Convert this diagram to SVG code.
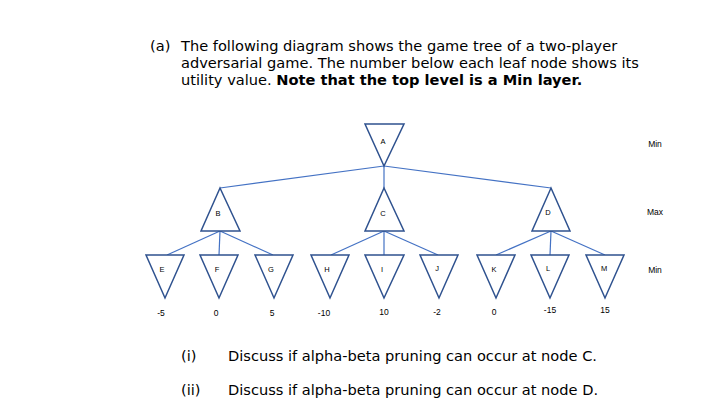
<svg xmlns="http://www.w3.org/2000/svg" width="702" height="401" viewBox="0 0 702 401">
<style>
.t{font-family:"DejaVu Sans",Verdana,sans-serif;font-size:14.6px;fill:#000}
.n polygon{fill:#fff;stroke:#2F528F;stroke-width:1.5}
.n text,.v,.l{font-family:"Liberation Sans",Arial,sans-serif;fill:#000;text-anchor:middle}
.n text{font-size:7.5px}
.v{font-size:8.5px}
.l{font-size:8.5px}
#edges line{stroke:#4472C4;stroke-width:1.2}
</style>
<rect width="702" height="401" fill="#fff"/>
<text class="t" x="150" y="51">(a)</text>
<text class="t" x="181" y="51">The following diagram shows the game tree of a two-player</text>
<text class="t" x="181" y="68">adversarial game. The number below each leaf node shows its</text>
<text class="t" x="181" y="85">utility value. <tspan font-weight="bold">Note that the top level is a Min layer.</tspan></text>
<g id="edges">
<line x1="384" y1="166" x2="220" y2="188"/><line x1="384" y1="166" x2="384" y2="188"/><line x1="384" y1="166" x2="551" y2="188"/>
<line x1="220" y1="231" x2="167" y2="255"/><line x1="220" y1="231" x2="219" y2="255"/><line x1="220" y1="231" x2="273" y2="255"/>
<line x1="384" y1="231" x2="331" y2="255"/><line x1="384" y1="231" x2="384" y2="255"/><line x1="384" y1="231" x2="438" y2="255"/>
<line x1="551" y1="231" x2="496" y2="255"/><line x1="551" y1="231" x2="550" y2="255"/><line x1="551" y1="231" x2="605" y2="255"/>
</g>
<g id="A" class="n"><polygon points="365,124 404,124 384,166"/><text x="383" y="144">A</text></g>
<g id="B" class="n"><polygon points="220,188 240,231 201,231"/><text x="218" y="216">B</text></g>
<g id="C" class="n"><polygon points="384,188 404,231 365,231"/><text x="383" y="216">C</text></g>
<g id="D" class="n"><polygon points="551,188 570,231 532,231"/><text x="548" y="215">D</text></g>
<g id="E" class="n"><polygon points="146,255 184,255 165,298"/><text x="162" y="272">E</text></g>
<g id="F" class="n"><polygon points="200,255 238,255 219,298"/><text x="217" y="272">F</text></g>
<g id="G" class="n"><polygon points="255,255 293,255 274,298"/><text x="271" y="272">G</text></g>
<g id="H" class="n"><polygon points="311,255 349,255 330,298"/><text x="327" y="272">H</text></g>
<g id="I" class="n"><polygon points="365,255 404,255 384,298"/><text x="382" y="272">I</text></g>
<g id="J" class="n"><polygon points="420,255 458,255 439,298"/><text x="437" y="271">J</text></g>
<g id="K" class="n"><polygon points="477,255 515,255 496,298"/><text x="494" y="272">K</text></g>
<g id="L" class="n"><polygon points="531,255 569,255 550,298"/><text x="548" y="271">L</text></g>
<g id="M" class="n"><polygon points="586,255 624,255 605,298"/><text x="604" y="271">M</text></g>
<text class="v" x="161" y="316">-5</text><text class="v" x="216" y="316">0</text><text class="v" x="272" y="316">5</text>
<text class="v" x="324" y="316">-10</text><text class="v" x="384" y="315">10</text><text class="v" x="437" y="315">-2</text>
<text class="v" x="494" y="315">0</text><text class="v" x="550" y="313">-15</text><text class="v" x="605" y="313">15</text>
<text class="l" x="655" y="147">Min</text><text class="l" x="655" y="215">Max</text><text class="l" x="655" y="273">Min</text>
<text class="t" x="181" y="361">(i)</text><text class="t" x="228" y="361">Discuss if alpha-beta pruning can occur at node C.</text>
<text class="t" x="181" y="395">(ii)</text><text class="t" x="228" y="395">Discuss if alpha-beta pruning can occur at node D.</text>
</svg>
